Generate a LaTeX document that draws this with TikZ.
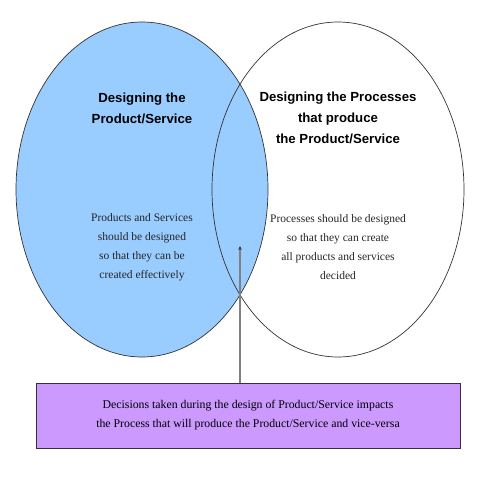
\documentclass[tikz,border=0pt]{standalone}
\usepackage{fontspec}
\setmainfont{Liberation Serif}
\newfontfamily\headfont{Liberation Sans}
\usetikzlibrary{positioning, arrows.meta, shapes.geometric}

\definecolor{prodblue}{HTML}{99CCFF}
\definecolor{boxviolet}{HTML}{CC99FF}
\definecolor{rimgray}{HTML}{333333}

\begin{document}
\begin{tikzpicture}[x=1pt, y=1pt, >={Stealth[length=4pt, width=3.5pt, color=black!80]},
    area/.style = {ellipse, draw=rimgray, line width=0.7pt, minimum width=252pt, minimum height=335pt, inner sep=0pt},
    heading/.style = {align=center, font=\headfont\bfseries\fontsize{13.2}{21}\selectfont},
    body/.style = {align=center, text=black!85, font=\fontsize{11.5}{19}\selectfont},
    note/.style = {rectangle, draw=rimgray, fill=boxviolet, line width=0.7pt, minimum width=424pt, minimum height=65pt, align=center, font=\fontsize{11.8}{19}\selectfont}]
  \useasboundingbox (0,0) rectangle (480,480);

  % the two circles
  \node[area, fill=prodblue] (prod) at (142,290.5) {};
  \node[area] (proc) at (338,290.5) {};

  \node[heading] (prodhead) [below = 68pt of prod.north] {Designing the\\Product/Service};
  \node[heading] (prochead) [below = 67pt of proc.north] {Designing the Processes\\that produce\\the Product/Service};

  \node[body] (prodtext) [below = 20pt of prod.center] {Products and Services\\should be designed\\so that they can be\\created effectively};
  \node[body] (proctext) [below = 21pt of proc.center] {Processes should be designed\\so that they can create\\all products and services\\decided};

  % the common part
  \node[note] (link) at (248,64.5) {Decisions taken during the design of Product/Service impacts\\the Process that will produce the Product/Service and vice-versa};
  \coordinate (tip) at (240,234);

  \draw[->, draw=black!50, line width=1.2pt] (link.north -| tip) -- (tip);
\end{tikzpicture}
\end{document}
